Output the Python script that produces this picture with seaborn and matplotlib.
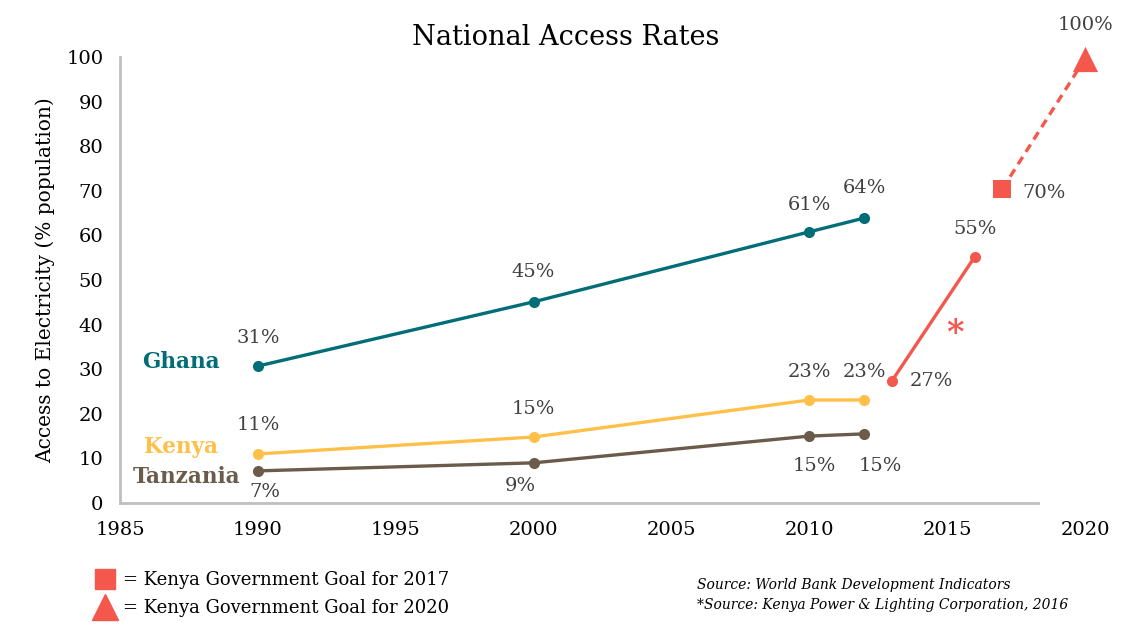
import matplotlib.pyplot as plt
import pandas as pd
import seaborn as sns
from matplotlib.lines import Line2D

# World Bank series
years = [1990, 2000, 2010, 2012]
ghana = [30.7, 45.1, 60.8, 63.9]
kenya = [11.0, 14.8, 23.1, 23.1]
tanzania = [7.2, 9.0, 15.0, 15.5]
ghana_labels = ['31%', '45%', '61%', '64%']
kenya_labels = ['11%', '15%', '23%', '23%']
tanzania_labels = ['7%', '9%', '15%', '15%']

# Kenya Power & Lighting series
kplc_years = [2013, 2016]
kplc = [27.4, 55.2]
kplc_labels = ['27%', '55%']

# government goals
goal_years = [2017, 2020]
goals = [70.4, 99.6]
goal_labels = ['70%', '100%']

countries = ['Ghana', 'Kenya', 'Tanzania']

df = pd.DataFrame({
    'year': years * 3,
    'access': ghana + kenya + tanzania,
    'country': ['Ghana'] * 4 + ['Kenya'] * 4 + ['Tanzania'] * 4,
})

palette = {'Ghana': '#006D77', 'Kenya': '#FFC04A', 'Tanzania': '#6B5B4B'}
red = '#F4574B'
label_gray = '#404040'

sns.set_theme(style='white')
plt.rcParams['font.family'] = ['DejaVu Serif']

fig = plt.figure(figsize=(11.32, 6.3), dpi=100)
ax = fig.add_axes([0.106, 0.2016, 0.8525, 0.7079])

sns.lineplot(data=df, x='year', y='access', hue='country', palette=palette,
             marker='o', markersize=8, markeredgewidth=0, linewidth=2.4,
             legend=False, ax=ax)
sns.lineplot(x=kplc_years, y=kplc, color=red, marker='o', markersize=8,
             markeredgewidth=0, linewidth=2.4, ax=ax)
sns.lineplot(x=goal_years, y=goals, color=red, linewidth=2.4,
             linestyle=(0, (2.6, 1.8)), ax=ax)
sns.scatterplot(x=goal_years[:1], y=goals[:1], marker='s', s=150, color=red,
                linewidth=0, ax=ax, zorder=5)
sns.scatterplot(x=goal_years[1:], y=goals[1:], marker='^', s=330, color=red,
                linewidth=0, ax=ax, zorder=5, clip_on=False)

# data labels, offsets in pixels
def put_labels(xs, ys, texts, offsets):
    for x, y, t, (dx, dy) in zip(xs, ys, texts, offsets):
        ax.annotate(t, (x, y), xytext=(dx, dy), textcoords='offset pixels',
                    ha='center', va='center', fontsize=14, color=label_gray,
                    annotation_clip=False)

put_labels(years, ghana, ghana_labels, [(0, 28), (0, 30), (0, 27), (0, 30)])
put_labels(years, kenya, kenya_labels, [(0, 29), (0, 28), (0, 28), (0, 28)])
put_labels(years, tanzania, tanzania_labels, [(7, -21), (-13, -23), (5, -30), (16, -32)])
put_labels(kplc_years, kplc, kplc_labels, [(39, 0), (0, 28)])
put_labels(goal_years, goals, goal_labels, [(42, -4), (0, 34)])

# series names
name_pos = {'Ghana': (1987.2, 31.6), 'Kenya': (1987.2, 12.6), 'Tanzania': (1987.4, 5.8)}
for c in countries:
    ax.text(*name_pos[c], c, ha='center', va='center', fontsize=15.5,
            fontweight='bold', color=palette[c])

ax.text(2015.3, 38.0, '*', ha='center', va='center', fontsize=24,
        fontweight='bold', color=red)

ax.set_xlim(1985, 2020)
ax.set_ylim(0, 100)
ax.set_xticks(range(1985, 2021, 5))
ax.set_yticks(range(0, 101, 10))
ax.tick_params(axis='both', labelsize=14, colors='black', length=0)
ax.tick_params(axis='y', pad=12)
ax.tick_params(axis='x', pad=13)
ax.set_xlabel('')
ax.set_ylabel('Access to Electricity (% population)', fontsize=14.5,
              color='black', labelpad=8)
fig.suptitle('National Access Rates', fontsize=19.5, color='black',
             x=0.5, y=0.94, va='center')

sns.despine(ax=ax)
for side in ['left', 'bottom']:
    ax.spines[side].set_color('#BFBFBF')
    ax.spines[side].set_linewidth(2)
ax.spines['bottom'].set_bounds(1985, 2018.3)

handles = [
    Line2D([], [], marker='s', color=red, linestyle='none', markersize=15),
    Line2D([], [], marker='^', color=red, linestyle='none', markersize=19),
]
fig.legend(handles, ['= Kenya Government Goal for 2017', '= Kenya Government Goal for 2020'],
           loc='upper left', bbox_to_anchor=(0.074, 0.108), frameon=False,
           fontsize=13, labelcolor='black', handlelength=1.3, handletextpad=0.35,
           labelspacing=0.55, borderpad=0)

fig.text(0.6157, 0.0714, 'Source: World Bank Development Indicators',
         fontsize=10, style='italic', va='center', color='black')
fig.text(0.6157, 0.0397, '*Source: Kenya Power & Lighting Corporation, 2016',
         fontsize=10, style='italic', va='center', color='black')

fig.savefig('out.png', dpi=100)
